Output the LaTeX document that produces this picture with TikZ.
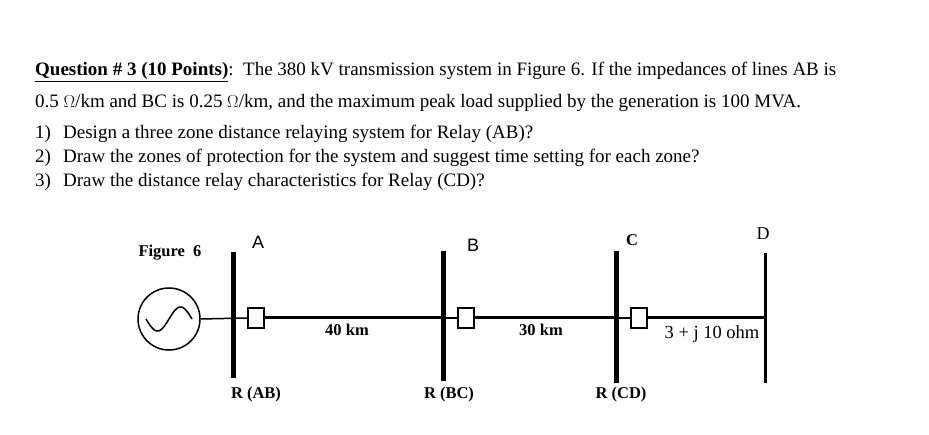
\documentclass[tikz,border=0pt]{standalone}
\usepackage{fontspec}
\setmainfont{Liberation Serif}
\newfontfamily\sansf{Liberation Sans}
\begin{document}
\begin{tikzpicture}[x=1pt,y=-1pt,
  qtext/.style={anchor=west,inner sep=0pt,font=\fontsize{19}{21}\selectfont},
  lbl/.style={inner sep=0pt,font=\bfseries\fontsize{16.5}{18}\selectfont},
  bus/.style={line width=5pt},
  brk/.style={draw,line width=1.5pt,fill=white,minimum width=16pt,minimum height=20pt,inner sep=0pt},
  wire/.style={line width=3pt}]
\useasboundingbox (0,0) rectangle (929,435);
\node[qtext] (l1) at (35,72) {\textbf{\underline{Question \# 3 (10 Points)}}:\ \ The 380 kV transmission system in Figure 6. If the impedances of lines AB is};
\node[qtext] (l2) at (35,103) {0.5 $\Omega$/km and BC is 0.25 $\Omega$/km, and the maximum peak load supplied by the generation is 100 MVA.};
\node[qtext] (n1) at (35,134) {1)};
\node[qtext] (t1) at (63,134) {Design a three zone distance relaying system for Relay (AB)?};
\node[qtext] (n2) at (35,158) {2)};
\node[qtext] (t2) at (63,158) {Draw the zones of protection for the system and suggest time setting for each zone?};
\node[qtext] (n3) at (35,182) {3)};
\node[qtext] (t3) at (63,182) {Draw the distance relay characteristics for Relay (CD)?};
% buses
\coordinate (At) at (233,252); \coordinate (Ab) at (233,378);
\coordinate (Bt) at (443,251); \coordinate (Bb) at (443,381);
\coordinate (Ct) at (616,251); \coordinate (Cb) at (616,383);
\coordinate (Dt) at (765,253); \coordinate (Db) at (765,383);
\coordinate (Dm) at (765,318);
\node[draw,circle,line width=1.5pt,minimum size=62pt,inner sep=0pt] (G) at (169,319) {};
\draw[line width=1.5pt,shift={(G.center)}] plot[domain=-23:23,samples=60,smooth] (\x,{-12*sin(\x/23*180)});
\node[brk] (bA) at (256,318) {};
\node[brk] (bB) at (466,318) {};
\node[brk] (bC) at (639,318) {};
\draw[line width=1.5pt] (G.east) -- (bA.west);
\draw[wire] (bA.east) -- (bB.west -| Bt);
\draw[line width=1.5pt] (bB.west -| Bt) -- (bB.west);
\draw[wire] (bB.east) -- (bC.west -| Ct);
\draw[line width=1.5pt] (bC.west -| Ct) -- (bC.west);
\draw[wire] (bC.east) -- (Dm);
\draw[bus] (At) -- (Ab);
\draw[bus] (Bt) -- (Bb);
\draw[bus] (Ct) -- (Cb);
\draw[line width=3pt] (Dt) -- (Db);
% labels
\node[inner sep=0pt,font=\sansf\fontsize{18}{20}\selectfont] (LA) at (258,242) {A};
\node[inner sep=0pt,font=\sansf\fontsize{18}{20}\selectfont] (LB) at (473,245) {B};
\node[lbl] (LC) at (632,240) {C};
\node[inner sep=0pt,font=\fontsize{18}{20}\selectfont] (LD) at (763,234) {D};
\node[lbl] (fig) at (170,253) {Figure\ \ 6};
\node[lbl] (k40) at (347,330) {40 km};
\node[lbl] (k30) at (541,330) {30 km};
\node[inner sep=0pt,font=\fontsize{18.5}{20}\selectfont] (z) at (712,334) {3 + j 10 ohm};
\node[lbl] (rab) at (256,395) {R (AB)};
\node[lbl] (rbc) at (449,395) {R (BC)};
\node[lbl] (rcd) at (621,395) {R (CD)};
\end{tikzpicture}
\end{document}
